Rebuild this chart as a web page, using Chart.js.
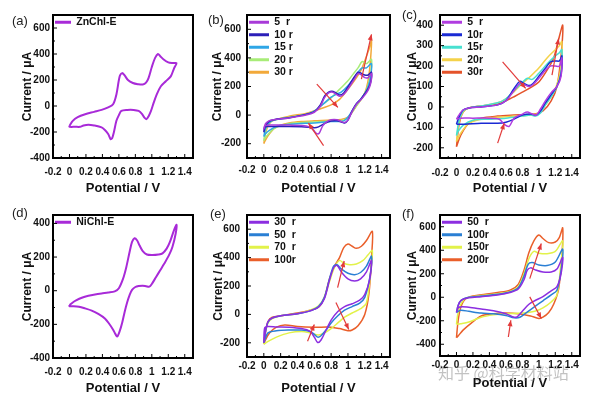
<!DOCTYPE html>
<html>
<head>
<meta charset="utf-8">
<script src="https://cdn.jsdelivr.net/npm/chart.js@4.4.1/dist/chart.umd.min.js"></script>
<style>
  body { margin: 0; background: #fff; width: 600px; height: 398px; position: relative; overflow: hidden; font-family: Arial, "Liberation Sans", sans-serif; }
  canvas { position: absolute; }
  .tag { position: absolute; font-size: 13px; line-height: 15px; color: #222; }
  .wm { position: absolute; left: 438px; top: 362px; font-family: "Noto Sans CJK SC", sans-serif; font-size: 16px; line-height: 20px; color: rgba(120,120,120,0.45); white-space: pre; z-index: 2; }
</style>
</head>
<body>
<canvas id="pa" width="200" height="200" style="left:0;top:0"></canvas>
<canvas id="pb" width="205" height="200" style="left:195px;top:0"></canvas>
<canvas id="pc" width="205" height="200" style="left:395px;top:0"></canvas>
<canvas id="pd" width="200" height="198" style="left:0;top:200px"></canvas>
<canvas id="pe" width="205" height="198" style="left:195px;top:200px"></canvas>
<canvas id="pf" width="205" height="198" style="left:395px;top:200px"></canvas>
<div class="tag" style="left:12px;top:13px">(a)</div>
<div class="tag" style="left:208px;top:12px">(b)</div>
<div class="tag" style="left:402px;top:7px">(c)</div>
<div class="tag" style="left:12px;top:205px">(d)</div>
<div class="tag" style="left:210px;top:206px">(e)</div>
<div class="tag" style="left:402px;top:206px">(f)</div>
<div class="wm">知乎 @科学材料站</div>
<script>
// axis ticks
const xTicks = [-0.2, 0, 0.2, 0.4, 0.6, 0.8, 1, 1.2, 1.4];
const xTickLabels = ['-0.2', '0', '0.2', '0.4', '0.6', '0.8', '1', '1.2', '1.4'];
const yTicksA = [-400, -200, 0, 200, 400, 600];
const yTicksB = [-200, 0, 200, 400, 600];
const yTicksC = [-200, -100, 0, 100, 200, 300, 400];
const yTicksD = [-400, -200, 0, 200, 400];
const yTicksE = [-200, 0, 200, 400, 600];
const yTicksF = [-400, -200, 0, 200, 400, 600];

// legend names
const namesA = ['ZnChl-E'];
const namesB = ['5  r', '10 r', '15 r', '20 r', '30 r'];
const namesC = ['5  r', '10r', '15r', '20r', '30r'];
const namesD = ['NiChl-E'];
const namesE = ['30  r', '50  r', '70  r', '100r'];
const namesF = ['50  r', '100r', '150r', '200r'];

// CV loops, [potential V, current uA]
const znChl = [[0,-152],[0.04,-114],[0.1,-85],[0.19,-63],[0.3,-45],[0.39,-30],[0.47,-10],[0.53,13],[0.57,89],[0.61,228],[0.64,253],[0.67,235],[0.71,200],[0.77,177],[0.83,168],[0.89,165],[0.93,180],[0.96,215],[1.0,300],[1.04,370],[1.075,400],[1.1,385],[1.14,360],[1.2,335],[1.25,330],[1.3,330],[1.27,290],[1.23,228],[1.17,190],[1.11,152],[1.06,90],[1.02,20],[0.99,-38],[0.96,-80],[0.935,-101],[0.91,-90],[0.88,-60],[0.84,-38],[0.78,-30],[0.7,-30],[0.63,-38],[0.6,-70],[0.57,-114],[0.54,-200],[0.52,-245],[0.5,-255],[0.47,-215],[0.43,-185],[0.39,-165],[0.3,-150],[0.23,-144],[0.17,-150],[0.13,-160],[0.07,-160],[0,-160],[0,-152]];

const b5r = [[0,-100],[0.02,-60],[0.06,-40],[0.12,-32],[0.3,-20],[0.5,0],[0.6,20],[0.67,60],[0.72,120],[0.77,155],[0.81,162],[0.85,150],[0.9,132],[0.95,145],[1.02,200],[1.08,255],[1.12,290],[1.16,282],[1.2,262],[1.24,262],[1.28,290],[1.27,220],[1.24,175],[1.2,140],[1.15,105],[1.1,75],[1.05,25],[1.0,-35],[0.96,-52],[0.92,-45],[0.87,-32],[0.8,-32],[0.75,-45],[0.7,-75],[0.66,-125],[0.63,-130],[0.59,-105],[0.54,-82],[0.45,-72],[0.3,-70],[0.15,-70],[0.05,-70],[0.01,-75],[0,-100]];
const b10r = [[0,-120],[0.02,-75],[0.06,-45],[0.12,-32],[0.3,-18],[0.5,5],[0.6,25],[0.67,70],[0.72,130],[0.77,160],[0.81,167],[0.85,158],[0.9,140],[0.95,155],[1.02,215],[1.08,270],[1.12,300],[1.16,292],[1.2,280],[1.24,280],[1.28,300],[1.27,230],[1.24,185],[1.2,150],[1.15,110],[1.1,80],[1.05,30],[1.0,-35],[0.96,-55],[0.92,-48],[0.87,-40],[0.8,-42],[0.72,-60],[0.65,-82],[0.6,-88],[0.54,-85],[0.45,-82],[0.3,-80],[0.15,-80],[0.05,-80],[0.01,-85],[0,-120]];
const b15r = [[0,-150],[0.02,-95],[0.06,-55],[0.12,-35],[0.3,-18],[0.5,5],[0.6,28],[0.7,75],[0.8,125],[0.86,145],[0.92,160],[1.0,205],[1.06,250],[1.12,300],[1.17,330],[1.22,330],[1.28,360],[1.27,270],[1.24,200],[1.2,150],[1.15,110],[1.1,75],[1.05,30],[1.0,-15],[0.95,-40],[0.88,-45],[0.8,-45],[0.6,-55],[0.4,-60],[0.25,-68],[0.15,-80],[0.07,-105],[0.02,-130],[0,-150]];
const b20r = [[0,-180],[0.02,-110],[0.06,-60],[0.12,-35],[0.3,-15],[0.5,5],[0.6,28],[0.7,75],[0.8,120],[0.9,180],[1.0,240],[1.06,285],[1.12,330],[1.17,375],[1.22,360],[1.28,390],[1.27,290],[1.24,210],[1.2,150],[1.15,105],[1.1,65],[1.05,20],[1.0,-15],[0.95,-35],[0.85,-40],[0.7,-45],[0.5,-50],[0.35,-55],[0.22,-70],[0.12,-95],[0.05,-135],[0.01,-165],[0,-180]];
const b30r = [[0,-200],[0.02,-125],[0.06,-65],[0.12,-35],[0.3,-8],[0.5,12],[0.6,30],[0.7,50],[0.8,72],[0.9,110],[1.0,180],[1.1,260],[1.16,320],[1.2,380],[1.25,460],[1.28,520],[1.27,400],[1.25,280],[1.22,190],[1.18,130],[1.12,80],[1.05,20],[1.0,-15],[0.92,-30],[0.8,-35],[0.6,-40],[0.45,-45],[0.3,-55],[0.2,-70],[0.12,-95],[0.05,-145],[0.01,-185],[0,-200]];

const c5r = [[0,-60],[0.03,-40],[0.08,-15],[0.15,-5],[0.3,0],[0.5,10],[0.6,30],[0.7,80],[0.77,115],[0.82,110],[0.88,100],[0.93,110],[1.0,140],[1.08,180],[1.14,200],[1.2,200],[1.25,200],[1.28,240],[1.27,150],[1.22,100],[1.15,70],[1.08,30],[1.02,-10],[0.97,-40],[0.92,-35],[0.86,-25],[0.8,-35],[0.7,-55],[0.64,-95],[0.58,-85],[0.52,-60],[0.4,-55],[0.2,-55],[0.05,-55],[0,-60]];
const c10r = [[0,-85],[0.03,-50],[0.08,-15],[0.15,-5],[0.3,0],[0.5,10],[0.6,30],[0.7,90],[0.77,125],[0.82,115],[0.88,105],[0.93,115],[1.0,150],[1.08,190],[1.14,220],[1.2,225],[1.25,225],[1.28,250],[1.27,160],[1.22,100],[1.15,60],[1.08,20],[1.02,-20],[0.97,-40],[0.9,-35],[0.8,-40],[0.7,-60],[0.6,-75],[0.5,-80],[0.3,-80],[0.1,-85],[0.02,-85],[0,-85]];
const c15r = [[0,-140],[0.03,-70],[0.08,-20],[0.15,-5],[0.3,5],[0.5,20],[0.6,40],[0.7,80],[0.8,120],[0.86,140],[0.92,135],[1.0,165],[1.1,210],[1.2,250],[1.25,265],[1.28,280],[1.27,170],[1.22,100],[1.15,50],[1.08,10],[1.02,-30],[0.96,-45],[0.9,-40],[0.8,-45],[0.6,-55],[0.4,-60],[0.2,-65],[0.08,-90],[0.02,-120],[0,-140]];
const c20r = [[0,-170],[0.03,-80],[0.08,-25],[0.15,-5],[0.3,5],[0.5,20],[0.6,40],[0.7,75],[0.8,115],[0.9,150],[1.0,190],[1.1,240],[1.2,280],[1.25,300],[1.28,320],[1.27,200],[1.22,110],[1.15,50],[1.08,10],[1.0,-30],[0.9,-40],[0.7,-45],[0.5,-50],[0.3,-60],[0.15,-80],[0.05,-130],[0,-170]];
const c30r = [[0,-195],[0.03,-90],[0.08,-25],[0.15,-5],[0.3,5],[0.5,15],[0.6,30],[0.7,50],[0.8,72],[0.9,95],[1.0,122],[1.1,180],[1.18,240],[1.24,330],[1.29,400],[1.27,250],[1.22,100],[1.15,30],[1.05,-20],[0.95,-35],[0.7,-40],[0.5,-45],[0.3,-55],[0.15,-80],[0.05,-140],[0,-195]];

const niChl = [[0,-85],[0.04,-70],[0.08,-58],[0.15,-42],[0.23,-30],[0.31,-22],[0.39,-16],[0.47,-11],[0.55,-4],[0.6,15],[0.65,70],[0.69,140],[0.73,230],[0.76,290],[0.79,312],[0.82,300],[0.85,270],[0.89,235],[0.94,215],[1.01,212],[1.08,215],[1.13,222],[1.18,250],[1.22,290],[1.27,360],[1.3,392],[1.29,340],[1.25,260],[1.21,213],[1.15,160],[1.1,120],[1.05,80],[1.0,40],[0.97,24],[0.93,27],[0.89,30],[0.84,28],[0.8,22],[0.76,5],[0.73,-26],[0.7,-70],[0.67,-126],[0.64,-190],[0.61,-240],[0.58,-272],[0.555,-255],[0.53,-232],[0.48,-195],[0.43,-165],[0.35,-138],[0.27,-118],[0.19,-105],[0.115,-95],[0.05,-92],[0,-92],[0,-85]];

const e30r = [[0,-200],[0.02,-120],[0.05,-50],[0.1,-25],[0.2,-10],[0.4,5],[0.55,25],[0.65,50],[0.72,110],[0.78,240],[0.83,330],[0.87,345],[0.92,300],[1.0,250],[1.08,235],[1.15,250],[1.22,300],[1.28,380],[1.26,250],[1.2,140],[1.14,100],[1.05,75],[0.96,55],[0.88,20],[0.8,-40],[0.74,-110],[0.68,-180],[0.64,-198],[0.6,-160],[0.55,-120],[0.45,-100],[0.3,-90],[0.15,-88],[0.05,-85],[0.01,-95],[0,-200]];
const e50r = [[0,-200],[0.02,-120],[0.05,-55],[0.1,-25],[0.2,-10],[0.4,5],[0.55,25],[0.65,55],[0.72,120],[0.78,250],[0.83,340],[0.87,350],[0.92,320],[1.0,290],[1.08,280],[1.15,295],[1.22,340],[1.28,410],[1.26,260],[1.2,120],[1.14,80],[1.05,55],[0.96,30],[0.88,-10],[0.8,-60],[0.74,-110],[0.68,-150],[0.64,-160],[0.6,-140],[0.55,-120],[0.45,-110],[0.3,-110],[0.15,-115],[0.05,-130],[0,-200]];
const e70r = [[0,-210],[0.02,-130],[0.05,-60],[0.1,-30],[0.2,-10],[0.4,5],[0.55,30],[0.65,60],[0.72,120],[0.78,230],[0.84,330],[0.9,380],[0.95,360],[1.02,350],[1.1,355],[1.18,380],[1.24,420],[1.29,450],[1.27,300],[1.22,80],[1.15,40],[1.05,10],[0.96,-20],[0.88,-60],[0.8,-100],[0.72,-130],[0.65,-145],[0.55,-130],[0.45,-120],[0.3,-130],[0.15,-160],[0.05,-190],[0,-210]];
const e100r = [[0,-210],[0.02,-120],[0.05,-50],[0.1,-20],[0.2,-10],[0.4,10],[0.55,30],[0.65,50],[0.72,120],[0.78,250],[0.84,340],[0.9,400],[0.95,470],[1.0,495],[1.05,480],[1.1,465],[1.16,480],[1.22,520],[1.29,585],[1.28,400],[1.25,150],[1.2,0],[1.12,-80],[1.05,-110],[1.0,-115],[0.9,-100],[0.8,-90],[0.6,-90],[0.4,-85],[0.25,-75],[0.15,-90],[0.07,-130],[0.02,-180],[0,-210]];

const f50r = [[0,-130],[0.02,-70],[0.06,-25],[0.15,-5],[0.3,5],[0.5,20],[0.65,40],[0.75,70],[0.82,150],[0.86,230],[0.9,250],[0.95,235],[1.05,215],[1.15,215],[1.22,240],[1.29,340],[1.27,200],[1.22,90],[1.15,55],[1.05,5],[0.95,-30],[0.88,-60],[0.8,-120],[0.74,-165],[0.7,-170],[0.6,-140],[0.45,-115],[0.3,-100],[0.15,-85],[0.03,-85],[0,-130]];
const f100r = [[0,-130],[0.02,-70],[0.06,-25],[0.15,0],[0.3,10],[0.5,25],[0.65,45],[0.75,80],[0.82,180],[0.87,280],[0.92,295],[1.0,275],[1.1,270],[1.2,300],[1.29,410],[1.27,230],[1.22,60],[1.15,20],[1.05,-30],[0.95,-80],[0.85,-130],[0.77,-170],[0.7,-175],[0.6,-155],[0.45,-140],[0.3,-135],[0.15,-120],[0.05,-110],[0,-130]];
const f150r = [[0,-230],[0.02,-130],[0.06,-50],[0.12,-5],[0.3,15],[0.5,30],[0.65,50],[0.75,90],[0.82,200],[0.88,330],[0.94,390],[1.0,375],[1.1,370],[1.2,390],[1.29,480],[1.27,300],[1.22,20],[1.15,-40],[1.05,-90],[0.95,-120],[0.8,-135],[0.6,-140],[0.45,-150],[0.3,-170],[0.15,-210],[0.05,-225],[0,-230]];
const f200r = [[0,-345],[0.02,-200],[0.05,-90],[0.1,-20],[0.2,10],[0.35,25],[0.5,40],[0.65,60],[0.75,110],[0.82,230],[0.88,380],[0.94,480],[1.0,530],[1.05,500],[1.12,465],[1.2,470],[1.25,510],[1.29,590],[1.28,350],[1.24,70],[1.18,-60],[1.12,-130],[1.05,-170],[1.0,-180],[0.9,-160],[0.75,-140],[0.6,-135],[0.45,-140],[0.3,-160],[0.18,-220],[0.08,-280],[0.02,-330],[0,-345]];

// trend arrows [tailV, tailI, headV, headI]
const arrowsB = [[0.63,216,0.88,54],[0.71,-214,0.53,-56],[1.16,251,1.28,565]];
const arrowsC = [[0.56,221,0.84,91],[0.5,-177,0.58,-80],[1.16,156,1.24,335]];
const arrowsE = [[0.877,189,0.955,376],[0.857,83,1.01,-106],[0.52,-189,0.6,-71]];
const arrowsF = [[0.89,159,1.03,457],[0.89,3,1.03,-181],[0.63,-338,0.66,-196]];

const FONT = 'Arial, "Liberation Sans", sans-serif';

// frame, inward ticks and red arrows
const framePlugin = {
  id: 'frame',
  afterLayout(chart) {
    // legend in the plot area: pin its top to the plot top
    const lg = chart.legend;
    if (lg) {
      lg.top = chart.chartArea.top;
      lg.bottom = lg.top + lg.height;
    }
  },
  afterDatasetsDraw(chart, args, opts) {
    const { ctx, chartArea: a, scales: { x, y } } = chart;
    ctx.save();
    ctx.strokeStyle = '#e23a3a';
    ctx.fillStyle = '#e23a3a';
    ctx.lineWidth = 1.2;
    (opts.arrows || []).forEach(([v1, i1, v2, i2]) => {
      const x1 = x.getPixelForValue(v1), y1 = y.getPixelForValue(i1);
      const x2 = x.getPixelForValue(v2), y2 = y.getPixelForValue(i2);
      ctx.beginPath(); ctx.moveTo(x1, y1); ctx.lineTo(x2, y2); ctx.stroke();
      const ang = Math.atan2(y2 - y1, x2 - x1), c = Math.cos(ang), s = Math.sin(ang);
      ctx.beginPath();
      ctx.moveTo(x2, y2);
      ctx.lineTo(x2 - 6 * c + 2.5 * s, y2 - 6 * s - 2.5 * c);
      ctx.lineTo(x2 - 6 * c - 2.5 * s, y2 - 6 * s + 2.5 * c);
      ctx.closePath(); ctx.fill();
    });
    ctx.strokeStyle = '#000';
    ctx.lineWidth = 1;
    for (let k = -2; k <= 15; k++) {
      const px = x.getPixelForValue(k / 10);
      const len = k % 2 === 0 ? 4 : 2;
      ctx.beginPath(); ctx.moveTo(px, a.bottom); ctx.lineTo(px, a.bottom - len); ctx.stroke();
    }
    const half = opts.yStep / 2;
    for (let v = Math.ceil(y.min / half) * half; v <= y.max; v += half) {
      const py = y.getPixelForValue(v);
      const len = Math.abs(v % opts.yStep) < 1e-6 ? 4 : 2;
      ctx.beginPath(); ctx.moveTo(a.left, py); ctx.lineTo(a.left + len, py); ctx.stroke();
    }
    ctx.lineWidth = 2;
    ctx.strokeRect(a.left, a.top, a.right - a.left, a.bottom - a.top);
    ctx.restore();
  }
};

function makePanel(id, p) {
  new Chart(document.getElementById(id), {
    type: 'scatter',
    data: {
      datasets: p.series.map((s, i) => ({
        label: p.names[i],
        data: s.map(([v, c]) => ({ x: v, y: c })),
        showLine: true,
        borderColor: p.colors[i],
        backgroundColor: p.colors[i],
        borderWidth: p.lw,
        pointRadius: 0,
        tension: 0.3
      }))
    },
    options: {
      responsive: false,
      animation: false,
      events: [],
      layout: { padding: { top: p.top, right: p.right, left: 0, bottom: 0 } },
      plugins: {
        legend: {
          position: 'chartArea',
          align: 'start',
          labels: {
            usePointStyle: true,
            pointStyle: 'line',
            pointStyleWidth: p.legW,
            padding: 2,
            color: '#111',
            font: { family: FONT, size: 10.5, weight: 'bold' },
            generateLabels: ch => Chart.defaults.plugins.legend.labels.generateLabels(ch).map(l => ({ ...l, lineWidth: 3 }))
          }
        },
        tooltip: { enabled: false },
        frame: { arrows: p.arrows, yStep: p.yStep }
      },
      scales: {
        x: {
          type: 'linear', min: -0.2, max: 1.5,
          grid: { display: false, drawTicks: false }, border: { display: false },
          afterBuildTicks: s => { s.ticks = xTicks.map(v => ({ value: v })); },
          afterFit: s => { s.height = p.xh; },
          ticks: {
            autoSkip: false, maxRotation: 0, padding: p.xpad, color: '#111',
            font: { family: FONT, size: 10, weight: 'bold' },
            callback: (v, i) => xTickLabels[i]
          },
          title: {
            display: true, text: 'Potential / V', color: '#111',
            font: { family: FONT, size: 13, weight: 'bold' },
            padding: { top: 0, bottom: p.xtp }
          }
        },
        y: {
          type: 'linear', min: p.ymin, max: p.ymax,
          grid: { display: false, drawTicks: false }, border: { display: false },
          afterBuildTicks: s => { s.ticks = p.yTicks.map(v => ({ value: v })); },
          afterFit: s => { s.width = p.yw; },
          ticks: {
            autoSkip: false, padding: p.ypad, color: '#111',
            font: { family: FONT, size: 10, weight: 'bold' },
            callback: v => String(v)
          },
          title: {
            display: true, text: 'Current / μA', color: '#111',
            font: { family: FONT, size: 12, weight: 'bold' },
            padding: { top: p.ytp, bottom: 0 }
          }
        }
      }
    },
    plugins: [framePlugin]
  });
}

const purple = '#a82ad8';

makePanel('pa', { series: [znChl], names: namesA, colors: [purple], lw: 2, legW: 16,
  yTicks: yTicksA, ymin: -400, ymax: 700, yStep: 200, arrows: [],
  top: 15, right: 5, yw: 53, xh: 42, ypad: 3, xpad: 8, xtp: 4, ytp: 20 });

makePanel('pb', { series: [b5r, b10r, b15r, b20r, b30r], names: namesB,
  colors: ['#a83ad8', '#2c1fb8', '#2fa6e6', '#a8ec78', '#f2a93a'], lw: 1.5, legW: 20,
  yTicks: yTicksB, ymin: -300, ymax: 700, yStep: 200, arrows: arrowsB,
  top: 15, right: 10, yw: 52, xh: 42, ypad: 6, xpad: 6, xtp: 4, ytp: 15 });

makePanel('pc', { series: [c5r, c10r, c15r, c20r, c30r], names: namesC,
  colors: ['#b03ce0', '#1a2ad4', '#48e0d0', '#f4d24a', '#e4532a'], lw: 1.5, legW: 20,
  yTicks: yTicksC, ymin: -250, ymax: 450, yStep: 100, arrows: arrowsC,
  top: 15, right: 20, yw: 45, xh: 42, ypad: 7, xpad: 9, xtp: 4, ytp: 10 });

makePanel('pd', { series: [niChl], names: namesD, colors: [purple], lw: 2, legW: 16,
  yTicks: yTicksD, ymin: -400, ymax: 450, yStep: 200, arrows: [],
  top: 15, right: 5, yw: 53, xh: 40, ypad: 3, xpad: 8, xtp: 2, ytp: 20 });

makePanel('pe', { series: [e30r, e50r, e70r, e100r], names: namesE,
  colors: ['#8c2ee0', '#2a7fd4', '#e2f24a', '#ea5f2a'], lw: 1.5, legW: 20,
  yTicks: yTicksE, ymin: -300, ymax: 700, yStep: 200, arrows: arrowsE,
  top: 15, right: 10, yw: 52, xh: 41, ypad: 7, xpad: 3, xtp: 2, ytp: 16 });

makePanel('pf', { series: [f50r, f100r, f150r, f200r], names: namesF,
  colors: ['#8c2ee0', '#2a7fd4', '#e2f24a', '#ea5f2a'], lw: 1.5, legW: 20,
  yTicks: yTicksF, ymin: -500, ymax: 700, yStep: 200, arrows: arrowsF,
  top: 15, right: 20, yw: 45, xh: 42, ypad: 4, xpad: 3, xtp: 7, ytp: 10 });
</script>
</body>
</html>
